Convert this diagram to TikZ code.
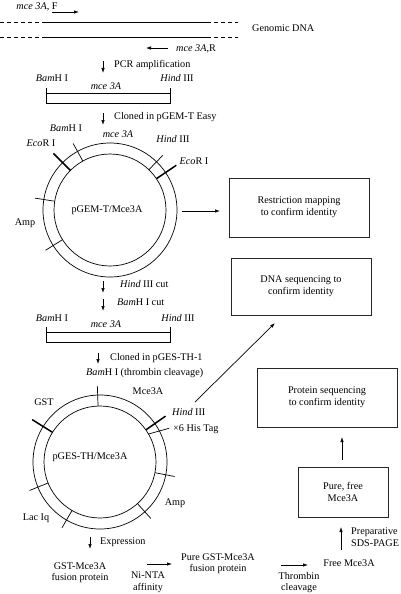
\documentclass[tikz,border=0pt]{standalone}
\usepackage{fontspec}
\setmainfont{Liberation Serif}
\usetikzlibrary{arrows.meta}
\tikzstyle{txt} = [inner sep=0pt, font=\fontsize{10.2}{11.5}\selectfont]
\tikzstyle{word} = [txt, text height=7pt, text depth=2pt]
\tikzstyle{lines} = [txt, align=center]
\tikzstyle{result} = [rectangle, draw=black!85, line width=0.8pt, minimum width=140pt, minimum height=59pt, align=center, txt, font=\fontsize{10.2}{12}\selectfont]
\tikzstyle{flow} = [-{Latex[length=5pt,width=3.5pt]}, line width=0.7pt]
\tikzstyle{strand} = [line width=0.7pt]
\tikzstyle{gap} = [strand, dash pattern=on 4pt off 3pt]
\newcommand{\rsite}[1]{\draw[strand] (#1:56pt) -- (#1:76pt);}
\newcommand{\rsitebold}[1]{\draw[line width=1.5pt] (#1:56pt) -- (#1:80pt);}
\newcommand{\plasmidring}{\draw[strand] (0,0) circle[radius=67pt] (0,0) circle[radius=56pt];}
\newcommand{\insertbar}[1]{\draw[strand] (46,{#1-5}) -- (46,{#1+10}) -- (170,{#1+10}) -- (170,{#1-5}); \draw[strand] (46,#1) -- (170,#1);}

\begin{document}
\begin{tikzpicture}[x=1pt, y=-1pt]
	\useasboundingbox (0,0) rectangle (400,594);
	\node[word] (fwd) at (37,7) {\textit{mce 3A}, F};
	\coordinate (fwdA) at (52,12);
	\coordinate (fwdB) at (79,12);
	\draw[flow] (fwdA) -- (fwdB);
	\foreach \y in {22,37} {
		\draw[gap] (0,\y) -- (42,\y);
		\draw[strand] (42,\y) -- (207,\y);
		\draw[gap] (207,\y) -- (238,\y);
	}
	\node[word, anchor=west] (gdna) at (252,29) {Genomic DNA};
	\node[word, anchor=west] (rev) at (176,49) {\textit{mce 3A},R};
	\coordinate (revA) at (168,48);
	\coordinate (revB) at (146,48);
	\draw[flow] (revA) -- (revB);

	\coordinate (pcrA) at (103,61);
	\coordinate (pcrB) at (103,73);
	\draw[flow] (pcrA) -- (pcrB);
	\node[word, anchor=west] (pcr) at (114,65) {PCR amplification};
	\node[word] (f1Bam) at (52,79) {\textit{Bam}H I};
	\node[word] (f1Hind) at (177,79) {\textit{Hind} III};
	\node[word] (f1mce) at (106,86.5) {\textit{mce 3A}};
	\insertbar{93}

	\coordinate (gemA) at (103,113);
	\coordinate (gemB) at (103,125);
	\draw[flow] (gemA) -- (gemB);
	\node[word, anchor=west] (gem) at (114,117) {Cloned in pGEM-T Easy};
	\begin{scope}[shift={(110,210)}]
		\plasmidring
		\rsite{119} \rsitebold{135} \rsite{46} \rsitebold{34} \rsite{171} \rsite{212}
	\end{scope}
	\node[word] (gBam) at (66,129) {\textit{Bam}H I};
	\node[word] (gmce) at (118,135) {\textit{mce 3A}};
	\node[word] (gHind) at (173,140) {\textit{Hind} III};
	\node[word] (gEcoL) at (41,144) {\textit{Eco}R I};
	\node[word] (gEcoR) at (194,162) {\textit{Eco}R I};
	\node[word] (gAmp) at (25,223) {Amp};
	\node[word] (gname) at (107,210) {pGEM-T/Mce3A};

	\node[result] (rmap) at (299,207.5) {Restriction mapping\\to confirm identity};
	\coordinate (gOut) at (182,211);
	\coordinate (gIn) at (220,211);
	\draw[flow] (gOut) -- (gIn);
	\node[result, minimum height=57pt] (dnaseq) at (301,286.5) {DNA sequencing to\\confirm identity};

	\coordinate (hcA) at (103,281);
	\coordinate (hcB) at (103,293);
	\draw[flow] (hcA) -- (hcB);
	\node[word, anchor=west] (hcut) at (120,285) {\textit{Hind} III cut};
	\coordinate (bcA) at (103,299);
	\coordinate (bcB) at (103,311);
	\draw[flow] (bcA) -- (bcB);
	\node[word, anchor=west] (bcut) at (117,303) {\textit{Bam}H I cut};
	\node[word] (f2Bam) at (52,319) {\textit{Bam}H I};
	\node[word] (f2Hind) at (178,319) {\textit{Hind} III};
	\node[word] (f2mce) at (106,324.5) {\textit{mce 3A}};
	\insertbar{332}

	\coordinate (gesA) at (98,353);
	\coordinate (gesB) at (98,364);
	\draw[flow] (gesA) -- (gesB);
	\node[word, anchor=west] (ges) at (110,358) {Cloned in pGES-TH-1};
	\node[word, anchor=west] (thrsite) at (86,373) {\textit{Bam}H I (thrombin cleavage)};
	\begin{scope}[shift={(100,462)}]
		\plasmidring
		\rsite{92} \rsitebold{148} \rsite{202} \rsite{240} \rsite{312} \rsite{349} \rsitebold{35}
		\draw[strand] (30:56pt) -- (26:77pt);
	\end{scope}
	\node[word] (sGST) at (44,403) {GST};
	\node[word] (smce) at (148,392) {Mce3A};
	\node[word, anchor=west] (sHind) at (172,413) {\textit{Hind} III};
	\node[word, anchor=west] (sHis) at (173,429) {×6 His Tag};
	\node[word] (sAmp) at (175,503) {Amp};
	\node[word] (sLac) at (36,518) {Lac Iq};
	\node[word] (sname) at (90,457) {pGES-TH/Mce3A};
	\coordinate (dg) at (195,402);
	\coordinate (dgEnd) at (275,323);
	\draw[flow] (dg) -- (dgEnd);

	\node[result] (protseq) at (327,397.5) {Protein sequencing\\to confirm identity};
	\node[result, minimum width=90pt, minimum height=50pt] (pure) at (343,492) {Pure, free\\Mce3A};
	\coordinate (upA) at (342,460);
	\coordinate (upB) at (342,437);
	\draw[flow] (upA) -- (upB);

	\coordinate (exA) at (90,537);
	\coordinate (exB) at (90,549);
	\draw[flow] (exA) -- (exB);
	\node[word, anchor=west] (expr) at (100,542) {Expression};
	\node[lines] (fusion) at (80,572.5) {GST-Mce3A\\fusion protein};
	\coordinate (niA) at (147,564);
	\coordinate (niB) at (172,564);
	\draw[flow] (niA) -- (niB);
	\node[lines] (ni) at (148,582) {Ni-NTA\\affinity};
	\node[lines] (purefus) at (218,563.5) {Pure GST-Mce3A\\fusion protein};
	\coordinate (thA) at (281,565);
	\coordinate (thB) at (308,565);
	\draw[flow] (thA) -- (thB);
	\node[lines] (thr) at (299,582.5) {Thrombin\\cleavage};
	\node[word] (free) at (349,564) {Free Mce3A};
	\coordinate (sdsA) at (341,550);
	\coordinate (sdsB) at (341,527);
	\draw[flow] (sdsA) -- (sdsB);
	\node[lines, align=left, anchor=west] (sds) at (351,537) {Preparative\\SDS-PAGE};
\end{tikzpicture}
\end{document}
